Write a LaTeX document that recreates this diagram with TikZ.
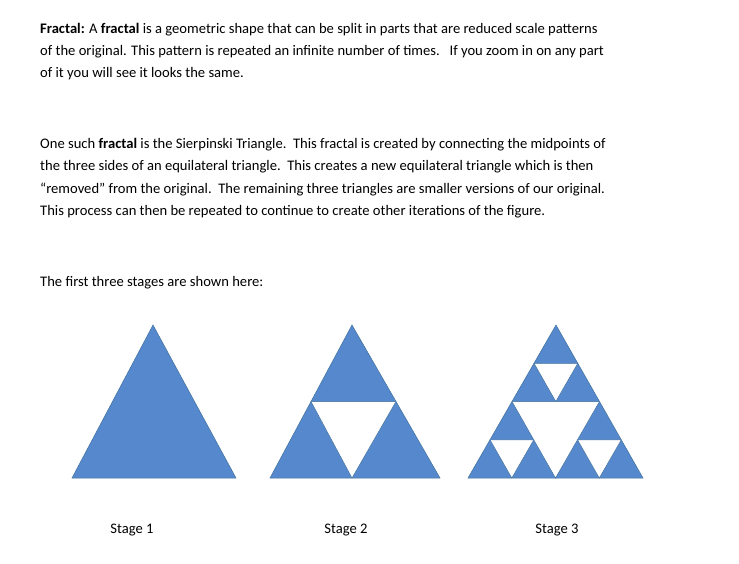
\documentclass[tikz,border=0pt]{standalone}
\usepackage{fontspec}
\setmainfont{Carlito}
\begin{document}
\begin{tikzpicture}[x=1pt,y=-1pt,
  txt/.style={anchor=base west,inner sep=0pt,font=\fontsize{14.6}{17}\selectfont},
  lbl/.style={anchor=base,inner sep=0pt,font=\fontsize{14.6}{17}\selectfont},
  tri/.style={fill=triblue,draw=triedge,line width=0.5pt,line join=miter}]
\definecolor{triblue}{HTML}{5588CC}
\definecolor{triedge}{HTML}{41719C}
\useasboundingbox (0,0) rectangle (739,563);
\node[txt] (l1) at (40,33) {\textbf{Fractal:} A \textbf{fractal} is a geometric shape that can be split in parts that are reduced scale patterns};
\node[txt] (l2) at (40,55) {of the original. This pattern is repeated an infinite number of times.\ \ \ If you zoom in on any part};
\node[txt] (l3) at (40,77) {of it you will see it looks the same.};
\node[txt] (p1) at (40,148) {One such \textbf{fractal} is the Sierpinski Triangle.\ \ This fractal is created by connecting the midpoints of};
\node[txt] (p2) at (40,170) {the three sides of an equilateral triangle.\ \ This creates a new equilateral triangle which is then};
\node[txt] (p3) at (40,193) {“removed” from the original.\ \ The remaining three triangles are smaller versions of our original.};
\node[txt] (p4) at (40,215) {This process can then be repeated to continue to create other iterations of the figure.};
\node[txt] (f1) at (40,286) {The first three stages are shown here:};
% stage 1
\draw[tri] (72,478) -- (153,325) -- (236,478) -- cycle;
% stage 2
\draw[tri] (270,478) -- (352,325) -- (440,478) -- cycle;
\fill[white] (311,401.5) -- (396,401.5) -- (352,478) -- cycle;
\draw[triedge,line width=0.5pt] (311,401.5) -- (396,401.5) -- (352,478) -- cycle;
% stage 3
\draw[tri] (468,478) -- (556,325) -- (643,478) -- cycle;
\foreach \a/\b/\c in {512/599.5/555.5, 534/577.5/555.5, 490/533.5/512, 577.5/621.5/599.5}{
  \pgfmathsetmacro{\yy}{0}
}
% big hole
\draw[triedge,line width=0.5pt,fill=white] (512,401.5) -- (599.5,401.5) -- (555.5,478) -- cycle;
% top hole
\draw[triedge,line width=0.5pt,fill=white] (534,363.3) -- (577.8,363.3) -- (555.8,401.5) -- cycle;
% left hole
\draw[triedge,line width=0.5pt,fill=white] (490,439.8) -- (533.8,439.8) -- (511.8,478) -- cycle;
% right hole
\draw[triedge,line width=0.5pt,fill=white] (577.5,439.8) -- (621.3,439.8) -- (599.3,478) -- cycle;
\node[lbl] (s1) at (132,533) {Stage 1};
\node[lbl] (s2) at (346,533) {Stage 2};
\node[lbl] (s3) at (557,533) {Stage 3};
\end{tikzpicture}
\end{document}
